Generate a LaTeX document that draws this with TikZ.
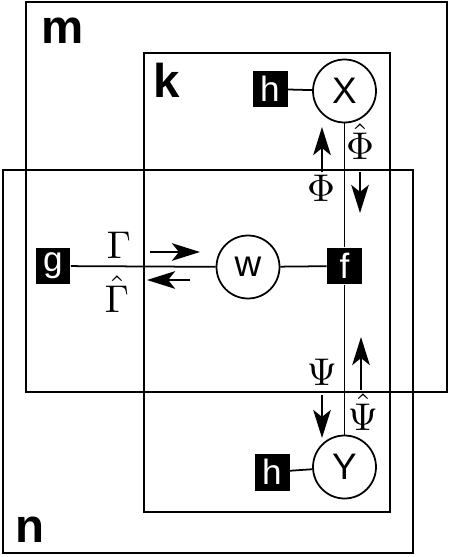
\documentclass[tikz,border=0pt]{standalone}
\usepackage[no-math]{fontspec}
\setsansfont{Liberation Sans}
\usetikzlibrary{arrows.meta}

\tikzset{
  var/.style={circle, draw, line width=1pt, minimum size=1.26cm, inner sep=0pt,
    font=\fontsize{21}{25}\selectfont\sffamily},
  fac/.style={fill=black, text=white, minimum width=0.7cm, minimum height=0.74cm,
    inner sep=0pt, font=\fontsize{20}{24}\selectfont\sffamily},
  edge/.style={line width=1pt},
  plate/.style={draw, line width=0.9pt},
  platelabel/.style={inner sep=0pt, font=\fontsize{27}{30}\selectfont\sffamily\bfseries},
  msg/.style={line width=1.2pt, -{Stealth[length=16pt, width=10pt, inset=4pt]}},
  msglabel/.style={inner sep=0pt, anchor=base, scale=2.2},
}

\begin{document}
\begin{tikzpicture}[x=0.02cm, y=-0.02cm]
\useasboundingbox (0,0) rectangle (450,557);

% plates
\draw[plate] (26,2) rectangle (447,392);
\draw[plate] (144,53) rectangle (390,512);
\draw[plate] (3,170) rectangle (413,553);
\node[platelabel] (mlabel) at (63,31) {m};
\node[platelabel] (klabel) at (167,80) {k};
\node[platelabel] (nlabel) at (29.5,530) {n};

% variables and factors
\node[var] (X) at (344.5,91) {X};
\node[var] (w) at (248,267) {w};
\node[var] (Y) at (344.5,467) {Y};
\node[fac] (f) at (344.5,266) {f};
\node[fac] (g) at (53,266) {g};
\node[fac] (hX) at (270,89) {h};
\node[fac] (hY) at (272,472) {h};

\draw[edge] (g) -- (w);
\draw[edge] (w) -- (f);
\draw[edge] (X) -- (f);
\draw[edge] (f) -- (Y);
\draw[edge] (hX) -- (X);
\draw[edge] (hY) -- (Y);

% messages
\draw[msg] (150,252) -- (200,252);
\draw[msg] (190,280) -- (147,280);
\draw[msg] (322,172) -- (322,127);
\draw[msg] (360,172) -- (360,213);
\draw[msg] (322,395) -- (322,438);
\draw[msg] (361,390) -- (361,337);

\node[msglabel] (Gam) at (119,258) {$\Gamma$};
\node[msglabel] (Gamhat) at (117,312) {$\hat\Gamma$};
\node[msglabel] (Phi) at (321,201) {$\Phi$};
\node[msglabel] (Phihat) at (360,160) {$\hat\Phi$};
\node[msglabel] (Psi) at (322,385) {$\Psi$};
\node[msglabel] (Psihat) at (363,430) {$\hat\Psi$};
\end{tikzpicture}
\end{document}
